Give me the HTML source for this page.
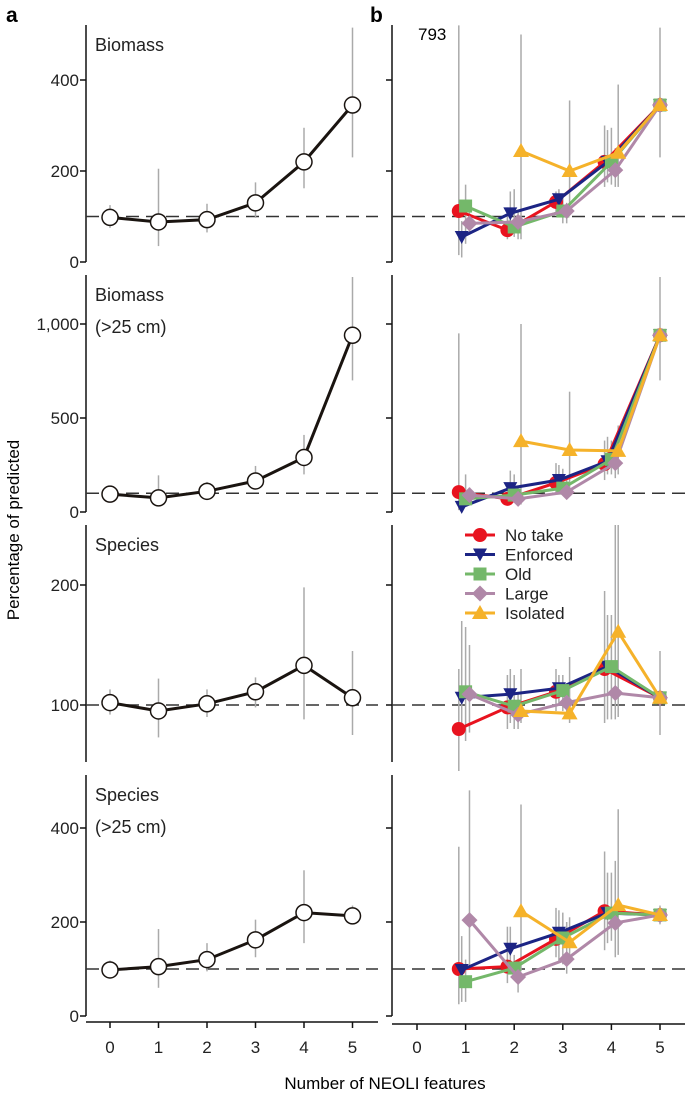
<!DOCTYPE html>
<html><head><meta charset="utf-8"><style>
html,body{margin:0;padding:0;background:#fff;}
svg{display:block;font-family:"Liberation Sans",Arial,sans-serif;}
</style></head><body>
<svg id="chart" width="685" height="1094" viewBox="0 0 685 1094" xmlns="http://www.w3.org/2000/svg">
<text x="6" y="22" font-size="21" font-weight="bold">a</text>
<text x="370" y="22" font-size="21" font-weight="bold">b</text>
<text transform="translate(19,530) rotate(-90)" text-anchor="middle" font-size="17">Percentage of predicted</text>
<text x="385" y="1089" text-anchor="middle" font-size="17">Number of NEOLI features</text>
<text x="418" y="40" font-size="17">793</text>
</svg>
<script>
// ---- data ----
const xCats = [0,1,2,3,4,5];
const rowTicks = [[0,200,400],[0,500,1000],[100,200],[0,200,400]];
const rowTickLabels = [["0","200","400"],["0","500","1,000"],["100","200"],["0","200","400"]];
const rowTitles = [["Biomass"],["Biomass","(>25 cm)"],["Species"],["Species","(>25 cm)"]];
// left panel overall values
const allVals = [[98,88,93,130,220,345],[95,75,110,165,290,940],[102,95,101,111,133,106],[98,105,120,162,220,213]];
const allLo = [[75,35,65,97,162,230],[70,40,85,120,200,700],[92,73,90,98,88,75],[85,60,95,125,155,195]];
const allHi = [[125,205,128,175,295,515],[120,195,160,245,410,1250],[113,122,113,123,198,145],[118,185,155,205,310,235]];
const seriesNames = ["No take","Enforced","Old","Large","Isolated"];
const seriesX = [[1,2,3,4,5],[1,2,3,4,5],[1,2,3,4,5],[1,2,3,4,5],[2,3,4,5]];
const noTake = [[112,70,132,220,345],[106,70,155,255,940],[80,98,111,130,106],[100,105,164,223,215]];
const enforced = [[55,107,138,220,345],[27,127,170,270,940],[106,109,114,132,106],[98,143,177,219,215]];
const oldMPA = [[123,77,112,220,345],[70,90,127,280,940],[111,99,112,132,106],[73,102,166,219,215]];
const large = [[85,88,112,202,345],[90,70,106,260,940],[109,92,102,110,106],[204,83,121,198,215]];
const isolated = [[244,200,240,345],[377,330,325,940],[95,93,161,106],[223,157,236,215]];
const noTakeErr = [[[15,520],[50,120],[110,155],[165,300]],[[10,950],[50,150],[100,260],[170,380]],[[45,130],[80,125],[95,130],[85,195]],[[25,360],[70,190],[125,230],[140,350]]];
const enforcedErr = [[[10,90],[60,155],[115,160],[175,290]],[[10,120],[60,220],[110,250],[200,400]],[[75,170],[85,130],[100,125],[88,175]],[[30,170],[90,190],[115,225],[155,305]]];
const oldErr = [[[40,170],[55,160],[85,150],[170,295]],[[40,200],[50,200],[90,230],[200,380]],[[70,165],[80,125],[95,125],[88,175]],[[30,120],[80,130],[110,220],[160,305]]];
const largeErr = [[[60,110],[50,110],[85,130],[165,250]],[[60,130],[40,130],[70,180],[180,350]],[[77,150],[80,110],[90,115],[88,250]],[[100,480],[50,120],[90,200],[125,330]]];
const isolatedErr = [[[50,500],[120,355],[165,390]],[[40,1000],[100,640],[200,460]],[[85,130],[85,140],[90,250]],[[95,450],[120,210],[130,440]]];
const fiveErr = [[230,515],[700,1250],[75,145],[195,235]];

// ---- layout ----
const NS="http://www.w3.org/2000/svg";
const svg=document.getElementById('chart');
const rows=[{top:25,bot:262,zeroY:262,ppu:0.455},{top:275,bot:512,zeroY:512,ppu:0.188},{top:525,bot:762,zeroY:825,ppu:1.2},{top:775,bot:1016,zeroY:1016,ppu:0.47}];
const panels=[{ax:86,x0:110,dx:48.5,right:378},{ax:392,x0:417,dx:48.6,right:685}];
const colors=["#e8131f","#1c2484","#74b86a","#b088a8","#f5b22a"];
const shapes=["circle","tri","square","diamond","triup"];
const offs=[-0.14,-0.08,0,0.08,0.14];
const sVals=[noTake,enforced,oldMPA,large,isolated];
const sErr=[noTakeErr,enforcedErr,oldErr,largeErr,isolatedErr];
function el(t,a,p){const e=document.createElementNS(NS,t);for(const k in a)e.setAttribute(k,a[k]);(p||svg).appendChild(e);return e;}
function yS(r,v){const ro=rows[r];return Math.max(ro.top,ro.zeroY-v*ro.ppu);}
function xS(p,v){return panels[p].x0+v*panels[p].dx;}
function marker(g,shape,x,y,c){let e;const s=7;
 if(shape==="circle")e=el('circle',{cx:x,cy:y,r:7,fill:c},g);
 else if(shape==="square")e=el('rect',{x:x-6.5,y:y-6.5,width:13,height:13,fill:c},g);
 else if(shape==="diamond")e=el('polygon',{points:`${x},${y-8} ${x+8},${y} ${x},${y+8} ${x-8},${y}`,fill:c},g);
 else if(shape==="tri")e=el('polygon',{points:`${x-s},${y-6} ${x+s},${y-6} ${x},${y+7}`,fill:c},g);
 else e=el('polygon',{points:`${x-s-1},${y+6} ${x+s+1},${y+6} ${x},${y-8}`,fill:c},g);
 return e;}

for(let r=0;r<4;r++){
 for(let p=0;p<2;p++){
  const P=panels[p],R=rows[r];
  const g=el('g',{});
  
  
  const ax=el('line',{x1:P.ax,y1:R.top,x2:P.ax,y2:R.bot,stroke:'#111','stroke-width':1.5},g);
  
  
  rowTicks[r].forEach((t,i)=>{const y=R.zeroY-t*R.ppu;
   el('line',{x1:P.ax-6,y1:y,x2:P.ax,y2:y,stroke:'#111','stroke-width':1.5},g);
   if(p===0){const tx=el('text',{x:P.ax-7,y:y+6,'text-anchor':'end','font-size':17,fill:'#222'},g);tx.textContent=rowTickLabels[r][i];
    
    }
  });
  const ref=el('line',{x1:P.ax,y1:yS(r,100),x2:P.right,y2:yS(r,100),stroke:'#333','stroke-width':1.5,'stroke-dasharray':'13,7'},g);
  
  
  if(p===0){rowTitles[r].forEach((t,i)=>{const tx=el('text',{x:95,y:R.top+26+i*32,'font-size':18,fill:'#222'},g);tx.textContent=t;
    
    });
   xCats.forEach((c,i)=>{el('line',{x1:xS(0,c),x2:xS(0,c),y1:yS(r,allLo[r][i]),y2:yS(r,allHi[r][i]),stroke:'#aaa','stroke-width':1.5},g);});
   const pts=xCats.map((c,i)=>xS(0,c)+','+yS(r,allVals[r][i])).join(' ');
   const ln=el('polyline',{points:pts,fill:'none',stroke:'#1a1410','stroke-width':3},g);
   
   
   xCats.forEach((c,i)=>{const m=el('circle',{cx:xS(0,c),cy:yS(r,allVals[r][i]),r:8,fill:'#fff',stroke:'#1a1410','stroke-width':1.5},g);
    
    });
  } else {
   for(let s=0;s<5;s++){sErr[s][r].forEach((e,i)=>{const xv=seriesX[s][i]+offs[s];
     el('line',{x1:xS(1,xv),x2:xS(1,xv),y1:yS(r,e[0]),y2:yS(r,e[1]),stroke:'#aaa','stroke-width':1.5},g);});}
   el('line',{x1:xS(1,5),x2:xS(1,5),y1:yS(r,fiveErr[r][0]),y2:yS(r,fiveErr[r][1]),stroke:'#aaa','stroke-width':1.5},g);
   for(let s=0;s<5;s++){
    const xs=seriesX[s].map(v=>v===5?5:v+offs[s]);
    const pts=xs.map((v,i)=>xS(1,v)+','+yS(r,sVals[s][r][i])).join(' ');
    const ln=el('polyline',{points:pts,fill:'none',stroke:colors[s],'stroke-width':3},g);
    
    
    xs.forEach((v,i)=>{const m=marker(g,shapes[s],xS(1,v),yS(r,sVals[s][r][i]),colors[s]);
     
     });
   }
  }
 }
}
for(let p=0;p<2;p++){const P=panels[p];const y=p?1024:1022;
 const g=el('g',{});
 
 
 el('line',{x1:p?392:86,y1:y,x2:P.right,y2:y,stroke:'#111','stroke-width':1.5},g);
 xCats.forEach(c=>{el('line',{x1:xS(p,c),x2:xS(p,c),y1:y,y2:y+6,stroke:'#111','stroke-width':1.5},g);
  const t=el('text',{x:xS(p,c),y:1053,'text-anchor':'middle','font-size':17,fill:'#222'},g);t.textContent=String(c);
  
  });
}
const lg=el('g',{});


seriesNames.forEach((n,s)=>{const y=535+s*19.5;
 el('line',{x1:465,x2:495,y1:y,y2:y,stroke:colors[s],'stroke-width':3},lg);
 marker(lg,shapes[s],480,y,colors[s]);
 const t=el('text',{x:505,y:y+6,'font-size':17,fill:'#222'},lg);t.textContent=n;
 
 
});
</script>
</body></html>
